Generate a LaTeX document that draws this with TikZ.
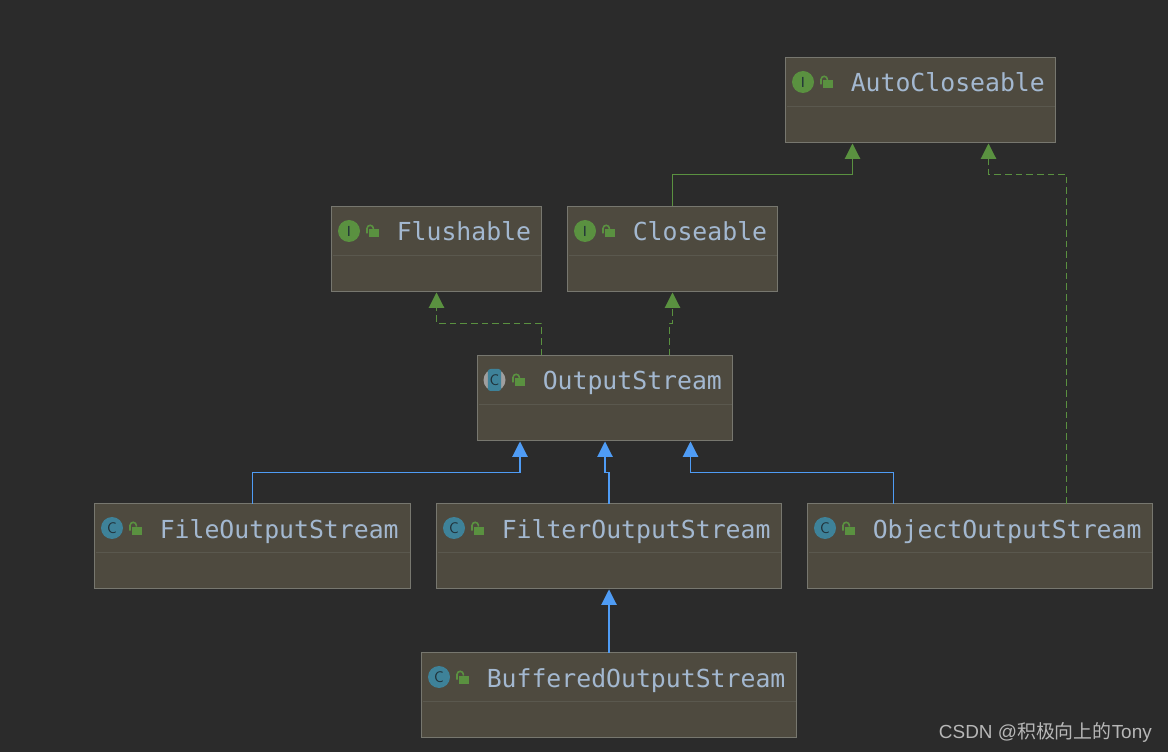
\documentclass[tikz,border=0pt]{standalone}
\usepackage{fontspec}
\setmainfont{Liberation Sans}
\newfontfamily\ideamono{DejaVu Sans Mono}
\newfontfamily\cjkfont{Noto Sans CJK SC}
\usetikzlibrary{arrows.meta,calc}
\definecolor{bgc}{HTML}{2B2B2B}
\definecolor{boxc}{HTML}{4E4A3F}
\definecolor{edgec}{HTML}{77776F}
\definecolor{sepc}{HTML}{5A584E}
\definecolor{textc}{HTML}{A3B8D0}
\definecolor{greenc}{HTML}{5A9140}
\definecolor{bluec}{HTML}{4F9CF5}
\definecolor{tealc}{HTML}{3E8299}
\definecolor{markc}{HTML}{1F3038}
\tikzset{
  x=0.75pt,y=-0.75pt,
  umlbox/.style={draw=edgec,line width=0.7pt,fill=boxc,anchor=north west,inner sep=0pt,outer sep=0pt,minimum height=63.75pt},
  sepline/.style={draw=sepc,line width=0.7pt},
  title/.style={anchor=base west,inner sep=0pt,text=textc,font=\ideamono\fontsize{18.6pt}{20pt}\selectfont},
  iconI/.style={circle,fill=greenc,minimum size=16.5pt,inner sep=0pt,text=markc,font=\fontsize{11pt}{11pt}\selectfont\rmfamily},
  iconC/.style={circle,fill=tealc,minimum size=16.5pt,inner sep=0pt,text=markc,font=\fontsize{11.5pt}{11.5pt}\selectfont\sffamily},
  iconG/.style={circle,fill=gray!75,minimum size=16.5pt,inner sep=0pt},
  iconA/.style={rounded corners=2pt,fill=tealc,minimum width=10pt,minimum height=16.5pt,inner sep=0pt,text=markc,font=\fontsize{11.5pt}{11.5pt}\selectfont\sffamily},
  lockbody/.style={fill=greenc},
  lockarc/.style={draw=greenc,line width=1.2pt},
  realize/.style={draw=greenc,line width=0.8pt,xshift=-0.3pt,yshift=0.3pt,-{Triangle[length=11.5pt,width=11.5pt,fill=greenc]}},
  implement/.style={realize,dash pattern=on 5pt off 3pt},
  extend/.style={draw=bluec,line width=0.8pt,xshift=-0.3pt,yshift=0.3pt,-{Triangle[length=11.5pt,width=11.5pt,fill=bluec]}},
}
% name, x, y, width in px, text
\newcommand{\umlnode}[5]{%
  \node[umlbox,minimum width=#4*0.75pt] (#1) at (#2.5,#3.5) {};
  \draw[sepline] ($(#1.north west)+(1,49)$) -- ($(#1.north east)+(-1,49)$);
  \fill[lockbody] ($(#1.north west)+(37.5,23)$) rectangle ($(#1.north west)+(47,31)$);
  \draw[lockarc] ($(#1.north west)+(35.5,27)$) -- ($(#1.north west)+(35.5,22)$) arc[start angle=180,end angle=0,x radius=3.2,y radius=-3.2] -- ($(#1.north west)+(41.9,23)$);
  \node[title] (#1-text) at ($(#1.north west)+(65,34.5)$) {#5};
}
\newcommand{\markI}[1]{\node[iconI] (#1-icon) at ($(#1.north west)+(17.5,24.5)$) {I};}
\newcommand{\markC}[1]{\node[iconC] (#1-icon) at ($(#1.north west)+(17.5,24.5)$) {C};}
\begin{document}
\begin{tikzpicture}
\fill[bgc] (0,0) rectangle (1168,752);
\useasboundingbox (0,0) rectangle (1168,752);
\umlnode{auto}{785}{57}{270}{AutoCloseable}\markI{auto}
\umlnode{flush}{331}{206}{210}{Flushable}\markI{flush}
\umlnode{close}{567}{206}{210}{Closeable}\markI{close}
\umlnode{out}{477}{355}{255}{OutputStream}
\node[iconG] (out-ring) at ($(out.north west)+(17,24.5)$) {};
\node[iconA] (out-icon) at ($(out.north west)+(17,24.5)$) {C};
\umlnode{file}{94}{503}{316}{FileOutputStream}\markC{file}
\umlnode{filter}{436}{503}{345}{FilterOutputStream}\markC{filter}
\umlnode{object}{807}{503}{345}{ObjectOutputStream}\markC{object}
\umlnode{buffered}{421}{652}{375}{BufferedOutputStream}\markC{buffered}
% connectors
\draw[realize] (close.north) -- ++(0,-32) -| ($(auto.south west)+(67,1)$);
\draw[implement] ($(object.north west)+(259,0)$) -- ($(object.north west)+(259,-329)$) -| ($(auto.south west)+(203,1)$);
\draw[implement] ($(out.north west)+(64,0)$) -- ($(out.north west)+(64,-32)$) -| ($(flush.south)+(0,1)$);
\draw[implement] ($(out.north west)+(192,0)$) -- ($(out.north west)+(192,-32)$) -| ($(close.south)+(0,1)$);
\draw[extend] (file.north) -- ++(0,-31) -| ($(out.south west)+(42.5,1)$);
\draw[extend] (filter.north) -- ++(0,-31) -| ($(out.south)+(0,1)$);
\draw[extend] ($(object.north west)+(86,0)$) -- ($(object.north west)+(86,-31)$) -| ($(out.south west)+(213,1)$);
\draw[extend] (buffered.north) -- ($(filter.south)+(0,1)$);
% watermark
\node[anchor=base east,inner sep=0pt,text=white!66!bgc,font=\fontsize{14.2pt}{15pt}\selectfont] (mark) at (1152,738) {CSDN @{\cjkfont 积极向上的}Tony};
\end{tikzpicture}
\end{document}
